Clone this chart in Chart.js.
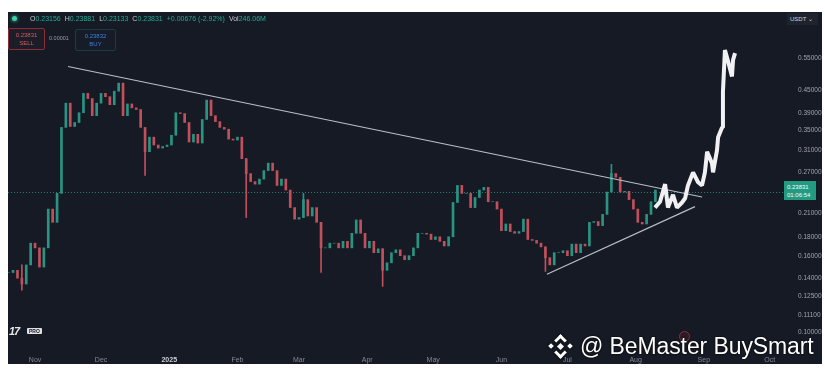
<!DOCTYPE html>
<html>
<head>
<meta charset="utf-8">
<script src="https://cdn.jsdelivr.net/npm/chart.js@4.4.1/dist/chart.umd.min.js"></script>
<style>
body { margin: 0; background: #fff; width: 825px; height: 372px; overflow: hidden; font-family: "Liberation Sans", Arial, sans-serif; }
#panel { position: absolute; left: 8px; top: 12px; width: 814px; height: 352px; background: #161a25; overflow: hidden; }
#wrap { position: absolute; left: 0; top: 0; width: 814px; height: 352px; }
.ov { position: absolute; white-space: nowrap; }
.legend { left: 22px; top: 2px; font-size: 7px; line-height: 10px; color: #c5c8d0; }
.legend b { font-weight: normal; color: #22ab94; margin-right: 4px; }
.dot { left: 4px; top: 4px; width: 5px; height: 5px; border-radius: 50%; background: #3fd1a6; box-shadow: 0 0 3px 1px #1f6f5c; }
.box { border-radius: 2px; text-align: center; font-size: 6px; line-height: 8px; padding-top: 2px; }
.sell { left: 0; top: 16px; width: 35px; height: 18px; border: 1px solid #8e2b36; background: #1b1d27; color: #d65a64; }
.buy { left: 67px; top: 17px; width: 39px; height: 18px; border: 1px solid #1f3a44; background: #161c28; color: #3f7fe0; }
.spread { left: 41px; top: 23px; font-size: 5.5px; color: #9a9da6; }
.usdt { left: 779px; top: 1px; width: 31px; height: 12px; background: #1f232e; color: #d1d4dc; font-size: 6px; line-height: 12px; padding-left: 3px; box-sizing: border-box; }
.pricetag { left: 776px; top: 169px; width: 32px; height: 19px; background: #239a82; color: #f2fffb; font-size: 6px; line-height: 8px; padding: 2px 0 0 3px; box-sizing: border-box; }
.tv { left: 1px; top: 313px; color: #e8e8ea; font-size: 11px; font-weight: bold; font-style: italic; letter-spacing: -1px; }
.pro { left: 19px; top: 316px; font-size: 5px; line-height: 6px; padding: 0 2px; background: #e0e0e4; color: #161a25; font-weight: bold; border-radius: 1px; }
.flag { left: 671px; top: 319px; width: 9px; height: 9px; border-radius: 50%; border: 1px solid #8a2f38; background: #2c1b24; }
.mark { left: 572px; top: 322px; font-size: 23px; line-height: 24px; letter-spacing: -0.1px; color: #fff; text-shadow: 0 0 2px #000, 0 0 1px #000; }
.logo { left: 552px; top: 334px; width: 0; height: 0; filter: drop-shadow(0 0 1px #000); }
.logo div { position: absolute; transform: rotate(45deg); }
</style>
</head>
<body>
<div id="panel">
  <div id="wrap"><canvas id="chart"></canvas></div>
  <div class="ov dot"></div>
  <div class="ov legend">O<b>0.23156</b>H<b>0.23881</b>L<b>0.23133</b>C<b>0.23831</b><b>+0.00676 (-2.92%)</b>Vol<b>246.06M</b></div>
  <div class="ov box sell">0.23831<br>SELL</div>
  <div class="ov spread">0.00001</div>
  <div class="ov box buy">0.23832<br>BUY</div>
  <div class="ov usdt">USDT &#8964;</div>
  <div class="ov pricetag">0.23831<br>01:06:54</div>
  <div class="ov tv">17</div>
  <div class="ov pro">PRO</div>
  <div class="ov flag"></div>
  <div class="ov logo">
    <div style="left:-2.5px;top:-2.5px;width:5px;height:5px;background:#fff"></div>
    <div style="left:-11.5px;top:-2px;width:4px;height:4px;background:#fff"></div>
    <div style="left:7.5px;top:-2px;width:4px;height:4px;background:#fff"></div>
    <div style="left:-4.5px;top:-10.5px;width:9px;height:9px;border-top:3px solid #fff;border-left:3px solid #fff;box-sizing:border-box"></div>
    <div style="left:-4.5px;top:1.5px;width:9px;height:9px;border-bottom:3px solid #fff;border-right:3px solid #fff;box-sizing:border-box"></div>
  </div>
  <div class="ov mark">@ BeMaster BuySmart</div>
</div>
<script>
// closes, one every 2 days starting Oct 19 2024 (day 0 = Oct 1 2024)
const firstDay = 19;
const dayStep = 2;
const closes = [
    0.145, 0.147, 0.140, 0.135, 0.152, 0.174, 0.169, 0.150, 0.169, 0.215,
    0.198, 0.237, 0.357, 0.415, 0.359, 0.368, 0.391, 0.441, 0.427, 0.384,
    0.415, 0.441, 0.432, 0.411, 0.447, 0.470, 0.384, 0.413, 0.403, 0.399,
    0.357, 0.307, 0.336, 0.320, 0.314, 0.317, 0.320, 0.340, 0.391, 0.389,
    0.368, 0.326, 0.342, 0.324, 0.375, 0.423, 0.384, 0.370, 0.357, 0.353,
    0.332, 0.330, 0.336, 0.294, 0.268, 0.255, 0.251, 0.259, 0.273, 0.286,
    0.273, 0.249, 0.259, 0.242, 0.217, 0.202, 0.204, 0.228, 0.206, 0.217,
    0.198, 0.169, 0.169, 0.174, 0.174, 0.169, 0.176, 0.169, 0.185, 0.201,
    0.185, 0.169, 0.176, 0.164, 0.168, 0.147, 0.154, 0.164, 0.167, 0.161,
    0.157, 0.161, 0.169, 0.185, 0.185, 0.184, 0.178, 0.181, 0.176, 0.171,
    0.181, 0.224, 0.249, 0.237, 0.237, 0.217, 0.231, 0.242, 0.246, 0.225,
    0.225, 0.215, 0.188, 0.196, 0.187, 0.185, 0.187, 0.202, 0.178, 0.177,
    0.174, 0.170, 0.159, 0.152, 0.164, 0.164, 0.166, 0.161, 0.173, 0.164,
    0.173, 0.171, 0.198, 0.199, 0.194, 0.208, 0.239, 0.268, 0.262, 0.239,
    0.240, 0.228, 0.215, 0.198, 0.196, 0.208, 0.225, 0.242
];

// long wicks that stick out of the bodies
const wickDays = [25, 81, 127, 153, 161, 189, 263, 293];
const wickLows = [0.130, 0.265, 0.204, 0.204, 0.145, 0.133, 0.146, 0.262];
const wickHighs = [0.152, 0.336, 0.294, 0.237, 0.198, 0.168, 0.170, 0.284];

// white projected path
const projDays = [312.8, 315.1, 317.4, 318.7, 321, 322.8, 325.1, 326.5, 327.8, 330.1, 332.4, 334.2, 335.5,
    336.5, 338.7, 339.2, 341, 341.5, 343.3, 343.7, 344.6, 346, 347.8, 348.3, 349.2];
const projPrices = [0.217, 0.225, 0.251, 0.217, 0.235, 0.217, 0.224, 0.230, 0.249, 0.270, 0.254, 0.249, 0.270,
    0.307, 0.286, 0.270, 0.310, 0.336, 0.357, 0.445, 0.577, 0.539, 0.490, 0.543, 0.566];

// trend lines
const resistDays = [46, 334.2];
const resistPrices = [0.521, 0.2317];
const supportDays = [263.7, 331];
const supportPrices = [0.1434, 0.2183];

const lastPrice = 0.23831;

const yTicks = [0.55, 0.45, 0.39, 0.35, 0.31, 0.27, 0.21, 0.18, 0.16, 0.14, 0.125, 0.111, 0.10];
const monthDays = [31, 61, 92, 123, 151, 182, 212, 243, 273, 304, 335, 365];
const monthLabels = ["Nov", "Dec", "2025", "Feb", "Mar", "Apr", "May", "Jun", "Jul", "Aug", "Sep", "Oct"];

const xMin = 18.7, xMax = 371;
const yMin = 0.0942, yMax = 0.683;
const upColor = "#2a9483";
const downColor = "#c0505b";

const days = closes.map((c, i) => firstDay + i * dayStep);
const opens = closes.map((c, i) => i === 0 ? c : closes[i - 1]);
const isUp = (i) => closes[i] >= opens[i];

Chart.defaults.font.family = "'Liberation Sans', Arial, sans-serif";

new Chart(document.getElementById("chart"), {
    type: "bar",
    data: {
        datasets: [{
            type: "line",
            data: projDays.map((d, i) => ({x: d, y: projPrices[i]})),
            borderColor: "#f1f1f3",
            borderWidth: 4,
            pointRadius: 0,
            borderJoinStyle: "bevel",
            order: 0
        }, {
            type: "line",
            data: resistDays.map((d, i) => ({x: d, y: resistPrices[i]})),
            borderColor: "#babdc5",
            borderWidth: 1.2,
            pointRadius: 0,
            order: 1
        }, {
            type: "line",
            data: supportDays.map((d, i) => ({x: d, y: supportPrices[i]})),
            borderColor: "#babdc5",
            borderWidth: 1.2,
            pointRadius: 0,
            order: 1
        }, {
            data: days.map((d, i) => ({x: d, y: [opens[i], closes[i]]})),
            grouped: false,
            barThickness: 2,
            borderSkipped: false,
            backgroundColor: (c) => isUp(c.dataIndex) ? upColor : downColor,
            order: 3
        }, {
            data: wickDays.map((d, i) => ({x: d, y: [wickLows[i], wickHighs[i]]})),
            grouped: false,
            barThickness: 1,
            backgroundColor: (c) => {
                const i = Math.round((wickDays[c.dataIndex] - firstDay) / dayStep);
                return isUp(i) ? upColor : downColor;
            },
            order: 4
        }, {
            type: "line",
            data: [{x: xMin, y: lastPrice}, {x: xMax, y: lastPrice}],
            borderColor: "#23806f",
            borderWidth: 1,
            borderDash: [1, 2],
            pointRadius: 0,
            order: 5
        }]
    },
    options: {
        animation: false,
        responsive: true,
        maintainAspectRatio: false,
        layout: {padding: 0, autoPadding: false},
        plugins: {legend: {display: false}, tooltip: {enabled: false}},
        scales: {
            x: {
                type: "linear",
                min: xMin,
                max: xMax,
                offset: false,
                grid: {display: false},
                border: {display: false},
                afterBuildTicks: (s) => { s.ticks = monthDays.map((v) => ({value: v})); },
                afterFit: (s) => { s.height = 22; },
                ticks: {
                    autoSkip: false,
                    maxRotation: 0,
                    padding: 6,
                    color: (c) => monthLabels[c.index] === "2025" ? "#c9ccd4" : "#858995",
                    font: (c) => ({size: 7, weight: monthLabels[c.index] === "2025" ? "bold" : "normal"}),
                    callback: (v, i) => monthLabels[i]
                }
            },
            y: {
                type: "logarithmic",
                position: "right",
                min: yMin,
                max: yMax,
                grid: {display: false},
                border: {display: false},
                afterBuildTicks: (s) => { s.ticks = yTicks.map((v) => ({value: v})); },
                afterFit: (s) => { s.width = 39; },
                ticks: {
                    autoSkip: false,
                    padding: 7,
                    color: "#a0a3ac",
                    font: {size: 6.5},
                    callback: (v) => Number(v).toFixed(5)
                }
            }
        }
    }
});
</script>
</body>
</html>
